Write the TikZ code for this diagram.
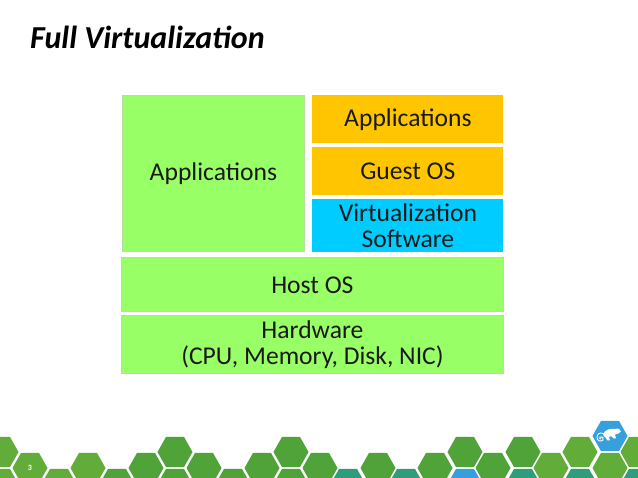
\documentclass[tikz,border=0pt]{standalone}
\usepackage{fontspec}
\setmainfont{Carlito}
\definecolor{lime}{HTML}{99FF66}
\definecolor{limeb}{HTML}{B4DFA0}
\definecolor{amber}{HTML}{FFC600}
\definecolor{sky}{HTML}{00CCFF}
\definecolor{hexd}{HTML}{4FA338}
\definecolor{hexl}{HTML}{62AD3A}
\definecolor{hext}{HTML}{2F9C7C}
\definecolor{hexb}{HTML}{35A0DC}
\tikzset{
  x=1pt,y=-1pt,
  layer/.style={draw=limeb,line width=0.8pt,inner sep=0pt,align=center,text=black!90,font=\fontsize{25.6}{26.5}\selectfont,anchor=north west},
  hexcell/.pic={\fill (-17.5,0)--(-9,-15.1)--(9,-15.1)--(17.5,0)--(9,15.1)--(-9,15.1)--cycle;}
}
\newcommand{\hexat}[3]{\pic[#1] at (#2,#3) {hexcell};}
\begin{document}
\begin{tikzpicture}
\useasboundingbox (0,0) rectangle (638,478);
\fill[white] (0,0) rectangle (638,478);
\node[anchor=west,font=\bfseries\itshape\fontsize{32}{34}\selectfont,inner sep=0pt] (title) at (30,37) {Full Virtualization};
\node[layer,fill=lime,minimum width=182pt,minimum height=156pt] (apps) at (122,95) {Applications};
\node[layer,fill=amber,draw=none,minimum width=191pt,minimum height=48pt] (gapps) at (312,95) {Applications};
\node[layer,fill=amber,draw=none,minimum width=191pt,minimum height=48pt] (guest) at (312,147) {Guest OS};
\node[layer,fill=sky,draw=none,minimum width=191pt,minimum height=53pt] (virt) at (312,199) {Virtualization\\Software};
\node[layer,fill=lime,minimum width=382pt,minimum height=54pt] (host) at (121,257.5) {Host OS};
\node[layer,fill=lime,minimum width=382pt,minimum height=58pt] (hw) at (121,315.5) {Hardware\\(CPU, Memory, Disk, NIC)};
\hexat{hexl}{1}{452}\hexat{hexl}{1}{484}
\hexat{hexl}{30}{468}\hexat{hexl}{59}{484}\hexat{hexl}{88}{468}
\hexat{hexd}{117}{484}\hexat{hexd}{146}{468}\hexat{hexd}{175}{452}\hexat{hexd}{175}{484}
\hexat{hexd}{204}{468}\hexat{hexd}{233}{484}\hexat{hexd}{262}{468}\hexat{hexd}{291}{452}\hexat{hexd}{291}{484}
\hexat{hexd}{320}{468}\hexat{hext}{348}{484}\hexat{hexd}{378}{468}\hexat{hext}{406}{484}
\hexat{hexd}{435}{468}\hexat{hexd}{465}{452}\hexat{hexb}{465}{484}\hexat{hexd}{493}{468}
\hexat{hexd}{523}{452}\hexat{hext}{523}{484}\hexat{hexl}{551}{468}\hexat{hexl}{580}{452}
\hexat{hext}{580}{484}\hexat{hexl}{610}{468}\hexat{hexb}{610}{436}\hexat{hexl}{638}{452}\hexat{hext}{638}{484}
\node[text=white,font=\bfseries\fontsize{8}{9}\selectfont,inner sep=0pt] (num) at (30,468) {3};
\fill[white] (603,434) .. controls (605,430) and (610,428) .. (615,429) .. controls (618,428) and (621,429) .. (621,431.5) .. controls (620,433.5) and (617,434) .. (615,434.5) -- (616,438.5) -- (613.5,438.5) -- (611,436) -- (609,437) -- (610,440.5) -- (607.5,440.5) -- (605.5,437.5) .. controls (604.5,437) and (603.5,436) .. (603,434) -- cycle;
\draw[white,line width=0.9pt] (603,433.5) .. controls (600,432) and (597,434) .. (597,437.5) .. controls (597,441) and (601,442) .. (603,440) .. controls (604.5,438) and (602,435.5) .. (600,437) .. controls (599,438) and (600,439.5) .. (601,439);
\end{tikzpicture}
\end{document}
